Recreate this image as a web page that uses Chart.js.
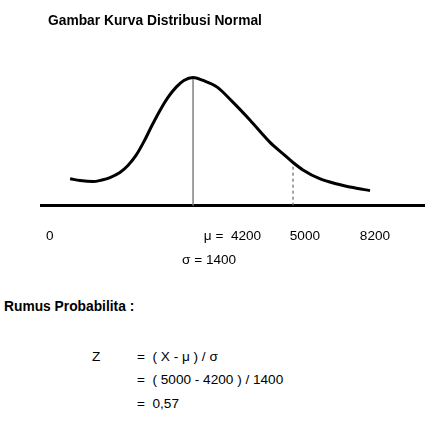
<!DOCTYPE html>
<html>
<head>
<meta charset="utf-8">
<script src="https://cdn.jsdelivr.net/npm/chart.js@4"></script>
<style>
  body { margin: 0; background: #fff; font-family: Arial, "Liberation Sans", sans-serif; color: #000; }
  #wrap { position: relative; width: 435px; height: 425px; }
  #myChart { position: absolute; left: 0; top: 0; }
  .t { position: absolute; font-size: 13.6px; line-height: 16px; white-space: pre; }
  .b { font-weight: bold; font-size: 13.8px; }
</style>
</head>
<body>
<div id="wrap">
  <canvas id="myChart" width="435" height="280"></canvas>
  <div class="t b" style="left:48px; top:13px;">Gambar Kurva Distribusi Normal</div>
  <div class="t" style="left:182px; top:252px;">σ = 1400</div>
  <div class="t b" style="left:4px; top:299px;">Rumus Probabilita :</div>
  <div class="t" style="left:92px; top:349px;">Z</div>
  <div class="t" style="left:137px; top:349px;">=  ( X - μ ) / σ</div>
  <div class="t" style="left:137px; top:372px;">=  ( 5000 - 4200 ) / 1400</div>
  <div class="t" style="left:137px; top:396px;">=  0,57</div>
</div>
<script>
// curve (position along axis 0-100, height above baseline)
let curveX = [7.6, 10.2, 13.6, 15.9, 18.0, 20.6, 22.7, 24.8, 26.9, 29.0, 31.1, 33.2, 35.3, 37.3, 39.7, 42.3, 46.0, 50.1, 54.6, 59.8, 63.2, 65.8, 68.4, 72.9, 77.3, 81.5, 85.9]
let curveY = [1.34, 1.25, 1.20, 1.28, 1.40, 1.65, 2.00, 2.50, 3.20, 4.00, 4.75, 5.40, 5.90, 6.23, 6.38, 6.23, 5.90, 5.15, 4.25, 3.15, 2.58, 2.15, 1.78, 1.33, 1.08, 0.90, 0.75]

// axis labels and where they sit on the axis
let tickPos = [2.3, 50.0, 68.9, 87.2]
let tickLabels = ['0', 'μ =  4200', '5000', '8200']

// mean line and the X = 5000 marker (index into the curve)
let meanIdx = 14
let markIdx = 21

var curve = curveX.map((x, i) => ({ x: x, y: curveY[i] }))
var meanLine = [{ x: curveX[meanIdx], y: 0 }, { x: curveX[meanIdx], y: curveY[meanIdx] }]
var markLine = [{ x: curveX[markIdx], y: 0 }, { x: curveX[markIdx], y: curveY[markIdx] }]

var ctx = document.getElementById('myChart').getContext('2d');
var chart = new Chart(ctx, {
    type: 'line',
    data: {
        datasets: [{
            data: curve,
            borderColor: '#000',
            borderWidth: 3,
            pointRadius: 0,
            cubicInterpolationMode: 'monotone',
            fill: false
        }, {
            data: meanLine,
            borderColor: '#808080',
            borderWidth: 1.5,
            pointRadius: 0
        }, {
            data: markLine,
            borderColor: '#666',
            borderWidth: 1.2,
            borderDash: [3, 3],
            pointRadius: 0
        }]
    },
    options: {
        responsive: false,
        animation: false,
        layout: { padding: { top: 65, left: 41, right: 11, bottom: 14 } },
        plugins: { legend: { display: false }, tooltip: { enabled: false } },
        scales: {
            x: {
                type: 'linear',
                min: 0,
                max: 100,
                grid: { display: false, drawTicks: false },
                border: { display: true, color: '#000', width: 3 },
                afterBuildTicks: (axis) => { axis.ticks = tickPos.map(v => ({ value: v })) },
                ticks: {
                    autoSkip: false,
                    maxRotation: 0,
                    padding: 22,
                    color: '#000',
                    font: { family: 'Arial, "Liberation Sans", sans-serif', size: 13.6 },
                    callback: (v, i) => tickLabels[i]
                }
            },
            y: { display: false, min: 0, max: 7 }
        }
    }
});
</script>
</body>
</html>
